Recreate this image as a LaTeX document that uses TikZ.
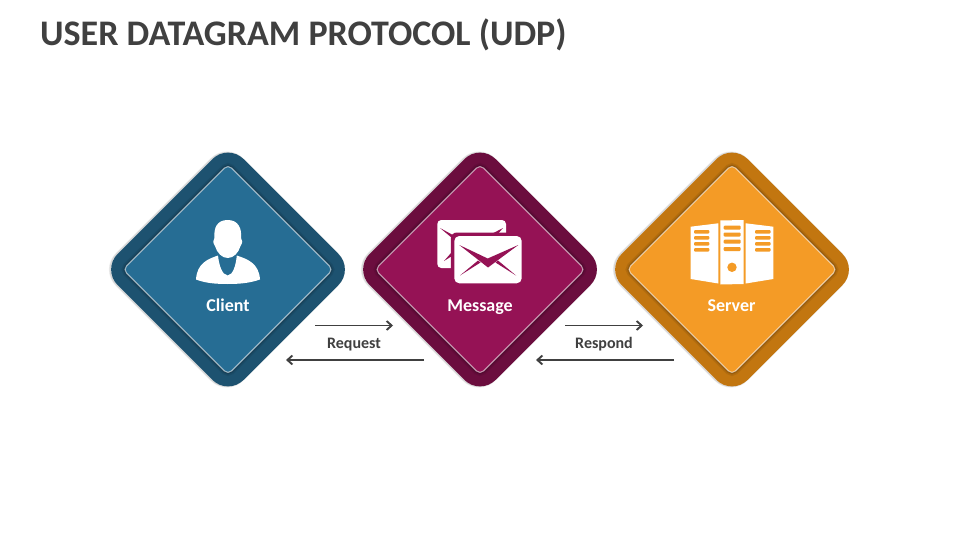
\documentclass[tikz,border=0pt]{standalone}
\usepackage{fontspec}
\setmainfont{Carlito}
\usetikzlibrary{arrows.meta}
\definecolor{ink}{HTML}{404040}
\definecolor{blueA}{HTML}{266D94}\definecolor{blueB}{HTML}{1D5270}
\definecolor{maroonA}{HTML}{951255}\definecolor{maroonB}{HTML}{6B0D3E}
\definecolor{orangeA}{HTML}{F49B26}\definecolor{orangeB}{HTML}{C27610}
\tikzset{
  conn/.style={draw=ink,line width=1.9pt,-{Straight Barb[length=5pt,width=9pt,line width=1.9pt]}},
  lbl/.style={font=\bfseries\fontsize{16}{18}\selectfont,text=ink,inner sep=0pt,anchor=base},
  captext/.style={font=\bfseries\fontsize{18}{20}\selectfont,text=white,inner sep=0pt,anchor=base},
  ttl/.style={font=\bfseries\fontsize{36}{40}\selectfont,text=ink,inner sep=0pt,anchor=base west},
}
% #1 centre x, #2 outer colour, #3 inner colour
\newcommand{\dia}[3]{%
  \begin{scope}[shift={(#1,269.5)}]
    \foreach \o/\w in {0.06/2.5,0.10/1.2}{
      \draw[black,opacity=\o,line width=\w pt,rounded corners=22pt]
        (-64,-63) -- (-1,-126) -- (125,0) -- (-1,126) -- (-127,0) -- cycle;}
    \fill[#2,rounded corners=22pt] (-63,-63) -- (0,-126) -- (126,0) -- (0,126) -- (-126,0) -- cycle;
    \foreach \o/\w in {0.08/7,0.10/4,0.14/2}{
      \draw[black,opacity=\o,line width=\w pt,rounded corners=5pt]
        (-52.5,-52.5) -- (0,-105) -- (105,0) -- (0,105) -- (-105,0) -- cycle;}
    \fill[#3,rounded corners=5pt] (-52.5,-52.5) -- (0,-105) -- (105,0) -- (0,105) -- (-105,0) -- cycle;
    \draw[white,opacity=.55,line width=1.1pt,rounded corners=5pt] (-52.5,-52.5) -- (0,-105) -- (105,0) -- (0,105) -- (-105,0) -- cycle;
  \end{scope}}
\begin{document}
\begin{tikzpicture}[x=1pt,y=-1pt]
\useasboundingbox (0,0) rectangle (960,540);
\fill[white] (0,0) rectangle (960,540);
\node[ttl] (title) at (40,46) {USER DATAGRAM PROTOCOL (UDP)};

\dia{228}{blueB}{blueA}
\dia{480}{maroonB}{maroonA}
\dia{732}{orangeB}{orangeA}

% person icon
\fill[white] (227.7,220) .. controls (217,220) and (213.5,228) .. (214.5,238)
  .. controls (212.5,240) and (213,243) .. (215,246)
  .. controls (217,253) and (222,258) .. (227.7,258)
  .. controls (233.5,258) and (238.5,253) .. (240.5,246)
  .. controls (242.5,243) and (243,240) .. (241,238)
  .. controls (242,228) and (238,220) .. (227.7,220) -- cycle;
\fill[white] (218,255.5) .. controls (219,265) and (222,275) .. (227.7,275.5)
  .. controls (233,275) and (236,265) .. (236.8,255.5)
  .. controls (247,259) and (259,263) .. (260,279.5)
  .. controls (250,283) and (240,284) .. (227.7,284)
  .. controls (215,284) and (205,283) .. (196,279.5)
  .. controls (197,263) and (208,259) .. (218,255.5) -- cycle;

% envelopes
\fill[white,rounded corners=4pt] (437.3,220) rectangle (506,268);
\fill[maroonA] (440,228) -- (462,240) -- (458,243) -- cycle;
\fill[maroonA] (503,228) -- (480,240) -- (490,243) -- cycle;
\fill[maroonA] (444,261) -- (451,253) -- (452,256) -- cycle;
\fill[maroonA,rounded corners=6pt] (450.8,232.5) rectangle (525.2,286.8);
\fill[white,rounded corners=5pt] (454.3,236) rectangle (521.7,283.3);
\fill[maroonA] (459.3,245) -- (487.7,258.5) -- (518.3,245) -- (488,267.5) -- cycle;
\fill[maroonA] (460,275.5) -- (478,260.5) -- (480.5,262.5) -- cycle;
\fill[maroonA] (516,275.5) -- (495.5,262.5) -- (498,260.5) -- cycle;

% server icon
\fill[white] (720.3,220.5) -- (743.7,220) -- (743.7,284) -- (720.3,284.5) -- cycle;
\fill[white] (690.7,226.7) -- (718.3,223.3) -- (718.3,283.5) -- (690.7,279) -- cycle;
\fill[white] (745.7,223.3) -- (773.3,226.7) -- (773.3,279) -- (745.7,283.5) -- cycle;
\foreach \y in {225.7,232.5,239.7,247}{
  \fill[orangeA,rounded corners=1pt] (723.7,\y) rectangle (740.7,\y+4);
}
\foreach \y in {230,236,242,248}{
  \fill[orangeA,rounded corners=1pt] (694,\y) rectangle (709.3,\y+3.6);
  \fill[orangeA,rounded corners=1pt] (755,\y) rectangle (770.5,\y+3.6);
}
\fill[orangeA] (732,267.3) circle (4.7);

% captions
\node[captext] (client) at (228,311) {Client};
\node[captext] (message) at (480,311) {Message};
\node[captext] (server) at (731.5,311) {Server};

% connectors
\coordinate (a1) at (315,325.5); \coordinate (a2) at (393,325.5);
\coordinate (b1) at (424,360);   \coordinate (b2) at (286,360);
\coordinate (c1) at (565,325.5); \coordinate (c2) at (643,325.5);
\coordinate (d1) at (674,360);   \coordinate (d2) at (536,360);
\draw[conn] (a1) -- (a2);
\draw[conn] (b1) -- (b2);
\draw[conn] (c1) -- (c2);
\draw[conn] (d1) -- (d2);
\node[lbl] (request) at (354,348) {Request};
\node[lbl] (respond) at (604,348) {Respond};
\end{tikzpicture}
\end{document}
